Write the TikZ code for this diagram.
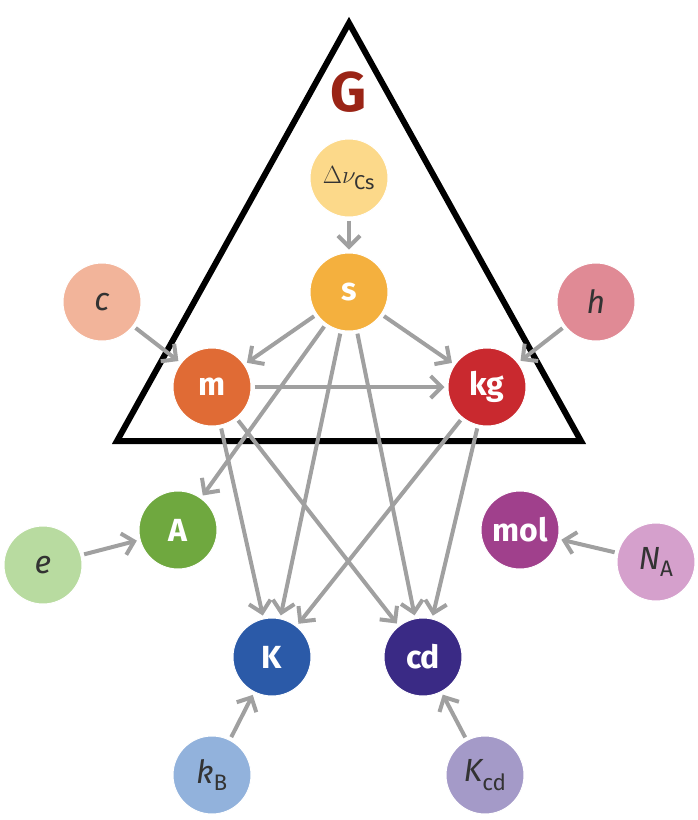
\documentclass[tikz,border=0pt]{standalone}
\usepackage{fontspec}
\setmainfont{Fira Sans}
\usetikzlibrary{arrows.meta}
\definecolor{cDn}{HTML}{FCD98A}
\definecolor{cs}{HTML}{F4B03E}
\definecolor{cm}{HTML}{E06B35}
\definecolor{ckg}{HTML}{C9292F}
\definecolor{cc}{HTML}{F2B49A}
\definecolor{ch}{HTML}{E08A95}
\definecolor{cA}{HTML}{6FA83F}
\definecolor{ce}{HTML}{B8DBA0}
\definecolor{cmol}{HTML}{A0408C}
\definecolor{cNA}{HTML}{D5A0CC}
\definecolor{cK}{HTML}{2B5AA8}
\definecolor{ccd}{HTML}{3A2A85}
\definecolor{ckB}{HTML}{92B2DC}
\definecolor{cKcd}{HTML}{A49AC8}
\definecolor{cG}{HTML}{9A2416}
\definecolor{arr}{HTML}{A0A0A0}
\definecolor{dtext}{HTML}{333333}
\tikzset{
 unit/.style={circle,minimum size=78pt,inner sep=0pt,draw=white,line width=1pt,font=\fontsize{32}{38}\selectfont\bfseries,text=white},
 constant/.style={circle,minimum size=78pt,inner sep=0pt,draw=white,line width=1pt,font=\fontsize{32}{38}\selectfont\itshape,text=dtext},
 link/.style={draw=arr,line width=4pt,-{Straight Barb[length=11pt,width=22pt,line width=4pt]},shorten >=3pt,shorten <=3pt}
}
\begin{document}
\begin{tikzpicture}[x=1pt,y=-1pt]
\useasboundingbox (0,0) rectangle (698,820);
\draw[line width=6pt,line join=miter] (349,23) -- (581,441) -- (117,441) -- cycle;
\node[text=cG,font=\fontsize{56}{64}\selectfont\bfseries] (G) at (349,92) {G};
\node[constant,fill=cDn,font=\fontsize{32}{38}\selectfont] (dn) at (349,178) {$\Delta\nu_{\textrm{\fontsize{20}{22}\selectfont Cs}}$};
\node[unit,fill=cs] (s) at (349,292) {s};
\node[constant,fill=cc] (c) at (102,302) {c};
\node[constant,fill=ch] (h) at (596,302) {h};
\node[unit,fill=cm] (m) at (212,387) {m};
\node[unit,fill=ckg] (kg) at (487,387) {kg};
\node[unit,fill=cA] (A) at (178,530) {A};
\node[constant,fill=ce] (e) at (43,565) {e};
\node[unit,fill=cmol] (mol) at (520,530) {mol};
\node[constant,fill=cNA] (NA) at (656,562) {N\textsubscript{\upshape A}};
\node[unit,fill=cK] (K) at (272,657) {K};
\node[unit,fill=ccd] (cd) at (423,657) {cd};
\node[constant,fill=ckB] (kB) at (212,775) {k\textsubscript{\upshape B}};
\node[constant,fill=cKcd] (Kcd) at (485,775) {K\textsubscript{\upshape cd}};
\draw[link] (dn) -- (s);
\draw[link] (s) -- (m);
\draw[link] (s) -- (kg);
\draw[link] (m) -- (kg);
\draw[link] (c) -- (m);
\draw[link] (h) -- (kg);
\draw[link] (s) -- (A);
\draw[link] (s) -- (K);
\draw[link] (s) -- (cd);
\draw[link] (m) -- (K);
\draw[link] (m) -- (cd);
\draw[link] (kg) -- (K);
\draw[link] (kg) -- (cd);
\draw[link] (e) -- (A);
\draw[link] (NA) -- (mol);
\draw[link] (kB) -- (K);
\draw[link] (Kcd) -- (cd);
\end{tikzpicture}
\end{document}
